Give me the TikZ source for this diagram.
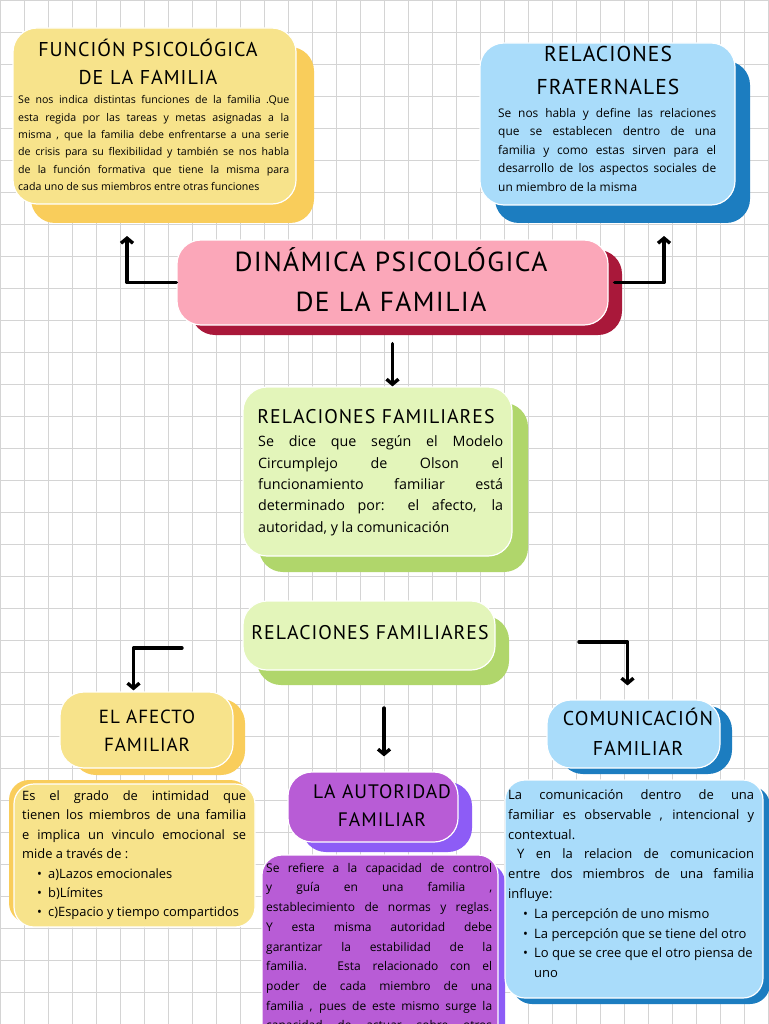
\documentclass[tikz,border=0pt]{standalone}
\usepackage{fontspec}
\setmainfont{Open Sans}
\newfontfamily\titlefont[LetterSpace=5]{PT Sans}
\usetikzlibrary{arrows.meta,shadows,positioning}

\definecolor{ylwfront}{HTML}{F7E38B}
\definecolor{ylwshade}{HTML}{F9CD5B}
\definecolor{bluefront}{HTML}{A9DCFA}
\definecolor{blueshade}{HTML}{1C7DC0}
\definecolor{pinkfront}{HTML}{FBA7B9}
\definecolor{pinkshade}{HTML}{A9183A}
\definecolor{grnfront}{HTML}{E3F5BA}
\definecolor{grnshade}{HTML}{B0D66B}
\definecolor{purpfront}{HTML}{B85CD6}
\definecolor{purpshade}{HTML}{8D5CF6}

\hyphenpenalty=10000
\exhyphenpenalty=10000
\newcommand\bul[1]{\par\hangindent=26pt\hspace*{15pt}\makebox[11pt][l]{\textbullet}#1}

\begin{document}
\begin{tikzpicture}[x=1pt,y=-1pt,>={Straight Barb[length=5pt,width=12pt]},
  card/.style n args={4}{draw=white,line width=1.2pt,rounded corners=24pt,
    inner sep=0pt,fill=#1,general shadow={fill=#2,shadow xshift=#3,shadow yshift=#4}},
  ttl/.style 2 args={font=\titlefont\fontsize{#1}{#2}\selectfont,align=center,
    text width=400pt,inner sep=0pt,anchor=base},
  txt/.style 2 args={font=\fontsize{#1}{#2}\selectfont,align=justify,
    inner sep=0pt,anchor=base west},
  link/.style={->,line width=3.4pt,line cap=round,line join=round},
  gridln/.style={black!17,line width=0.6pt}]
  \useasboundingbox (0,0) rectangle (768,1024);
  \fill[white] (0,0) rectangle (768,1024);
  % graph paper
  \foreach \i in {0,...,32}
    \draw[gridln] ({0.7+\i*24},0) -- ({0.7+\i*24},1024);
  \foreach \j in {0,...,32}
    \draw[gridln] (0,{\j*32}) -- (768,{\j*32});

  % top row
  \node[card={ylwfront}{ylwshade}{18pt}{-19pt},minimum width=283pt,
    minimum height=176pt] (funcion) at (154.5,116) {};
  \node[ttl={20}{28}] (funcionT) at (148,57) {FUNCIÓN PSICOLÓGICA\\DE LA FAMILIA};
  \node[txt={10.6}{17.3},text width=271pt] (funcionB) at (18,103.9)
    {Se nos indica distintas funciones  de la familia .Que\linebreak
     esta regida por las tareas y metas asignadas a la\linebreak
     misma , que la familia debe enfrentarse a una serie\linebreak
     de crisis para su flexibilidad y también se nos habla\linebreak
     de la función formativa que tiene la misma para\linebreak
     cada uno de sus miembros entre otras funciones};

  \node[card={bluefront}{blueshade}{15pt}{-18pt},minimum width=255pt,
    minimum height=162pt] (fraternal) at (607.5,124) {};
  \node[ttl={21.5}{33}] (fraternalT) at (608,61.5) {RELACIONES\\FRATERNALES};
  \node[txt={11.9}{18.5},text width=218pt] (fraternalB) at (498,117.2)
    {Se nos habla y define las relaciones\linebreak
     que se establecen dentro de una\linebreak
     familia y como estas sirven para el\linebreak
     desarrollo de los aspectos sociales de\linebreak
     un miembro de la misma};

  % centre
  \node[card={pinkfront}{pinkshade}{14pt}{-10pt},minimum width=431pt,
    minimum height=85pt] (dinamica) at (392.5,282.5) {};
  \node[ttl={27.5}{40}] (dinamicaT) at (391,271.6) {DINÁMICA PSICOLÓGICA\\DE LA FAMILIA};

  \node[card={grnfront}{grnshade}{16pt}{-16pt},minimum width=269pt,
    minimum height=169pt] (relfam) at (377.5,471.5) {};
  \node[ttl={19.8}{28}] (relfamT) at (376,423.9) {RELACIONES FAMILIARES};
  \node[txt={14.3}{21.3},text width=245pt] (relfamB) at (258,446.9)
    {Se dice que según el Modelo\linebreak
     Circumplejo de Olson el\linebreak
     funcionamiento familiar está\linebreak
     determinado por: el afecto, la\linebreak
     autoridad, y la comunicación};

  \node[card={grnfront}{grnshade}{14pt}{-15pt},minimum width=252pt,
    minimum height=69pt] (relfamii) at (369,635.5) {};
  \node[ttl={19.8}{28}] (relfamiiT) at (370,639.9) {RELACIONES FAMILIARES};

  % bottom row
  \node[card={ylwfront}{ylwshade}{12pt}{-7pt},minimum width=173pt,
    minimum height=76pt] (afecto) at (146.5,730) {};
  \node[ttl={19}{28}] (afectoT) at (147,723.7) {EL AFECTO\\FAMILIAR};
  \node[card={ylwfront}{ylwshade}{-5pt}{4pt},rounded corners=20pt,
    minimum width=241pt,minimum height=143pt] (afectobox) at (134.5,855.5) {};
  \node[txt={12.9}{19.4},text width=224pt] (afectoB) at (22,800.5)
    {Es el grado de intimidad  que\linebreak
     tienen los miembros de una familia\linebreak
     e implica un vinculo emocional se\linebreak
     mide a través de :
     \bul{a)Lazos emocionales}
     \bul{b)Límites}
     \bul{c)Espacio y tiempo compartidos}\par};

  \node[card={purpfront}{purpshade}{14pt}{-10pt},minimum width=170pt,
    minimum height=70pt] (autoridad) at (373,807) {};
  \node[ttl={19.5}{28}] (autoridadT) at (382,798.8) {LA AUTORIDAD\\FAMILIAR};
  \node[card={purpfront}{purpshade}{7pt}{-8pt},rounded corners=20pt,
    minimum width=236pt,minimum height=195pt] (autoridadbox) at (380,952.5) {};
  \node[txt={12}{19.7},text width=226pt] (autoridadB) at (266,872.2)
    {Se refiere a la capacidad de control\linebreak
     y guía en una familia ,\linebreak
     establecimiento de normas y reglas.\linebreak
     Y esta misma autoridad debe\linebreak
     garantizar la estabilidad de la\linebreak
     familia. Esta relacionado con el\linebreak
     poder de cada miembro de una\linebreak
     familia , pues de este mismo surge la\linebreak
     capacidad de actuar sobre otros\linebreak};

  \node[card={bluefront}{blueshade}{12pt}{-6pt},minimum width=173pt,
    minimum height=68pt] (comun) at (633.5,734) {};
  \node[ttl={20}{30}] (comunT) at (638,725) {COMUNICACIÓN\\FAMILIAR};
  \node[card={bluefront}{blueshade}{7pt}{-6pt},rounded corners=20pt,
    minimum width=258pt,minimum height=218pt] (comunbox) at (634,889) {};
  \node[txt={13}{19.8},text width=246pt] (comunB) at (508,799.5)
    {La comunicación dentro de una\linebreak
     familiar es  observable , intencional y\linebreak
     contextual.\par
     \hspace*{9pt}Y en la relacion de comunicacion\linebreak
     entre dos miembros de una familia\linebreak
     influye:
     \bul{La percepción de uno mismo}
     \bul{La percepción que se tiene del otro}
     \bul{Lo que se cree que el otro piensa de\newline uno}\par};

  % connectors
  \coordinate (upL) at (127,236);
  \coordinate (upR) at (664,236);
  \draw[link] (dinamica.west) -| (upL);
  \draw[link,shorten <=6pt] (dinamica.east) -| (upR);
  \draw[link,shorten <=18pt] (dinamica.south) -- (dinamica.south |- relfam.north);
  \coordinate (brL) at (182,648);
  \coordinate (brR) at (579,642);
  \coordinate (midD) at (384,708);
  \draw[link,shorten >=1pt] (brL) -| ([xshift=-13pt]afecto.north);
  \draw[link,shorten >=14pt] (brR) -| ([xshift=-6pt]comun.north);
  \draw[link,shorten >=15pt] (midD) -- (midD |- autoridad.north);
\end{tikzpicture}
\end{document}
